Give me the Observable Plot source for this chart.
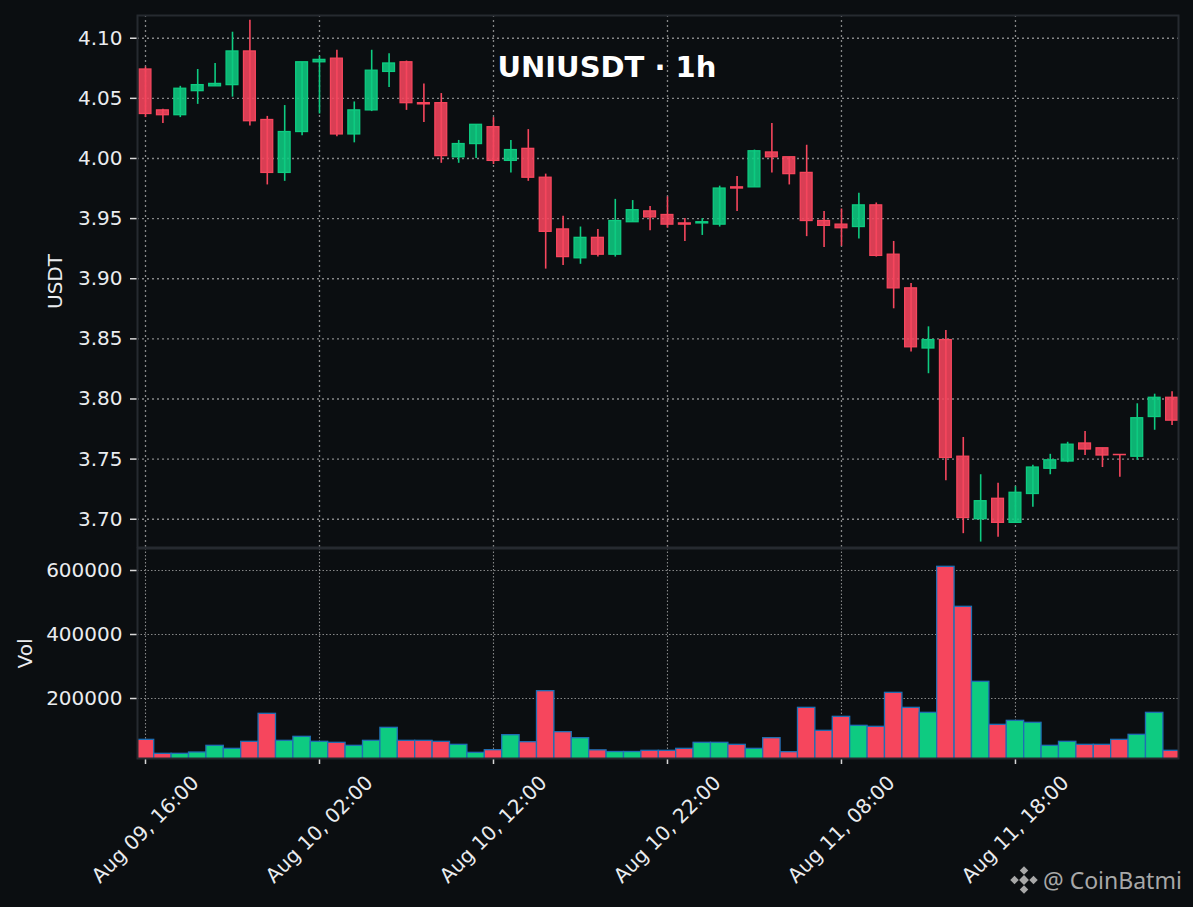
<!DOCTYPE html>
<html lang="en">
<head>
<meta charset="UTF-8">
<title>UNIUSDT · 1h</title>
<script src="https://cdn.jsdelivr.net/npm/d3@7"></script>
<script src="https://cdn.jsdelivr.net/npm/@observablehq/plot@0.6"></script>
<style>
  html, body { margin: 0; padding: 0; background: #0b0e11; }
  #wrap { position: relative; width: 1193px; height: 907px; overflow: hidden; font-family: "DejaVu Sans", sans-serif; }
  #price, #vol { position: absolute; left: 0; }
  #price { top: 0; }
  #vol { top: 547px; }
  #mark { position: absolute; left: 1009px; top: 865px; width: 184px; white-space: nowrap; color: #b9b9b9; font-family: "Noto Sans", sans-serif; font-size: 23px; line-height: 30px; display: flex; align-items: center; gap: 4px; opacity: 0.9; }
  #mark svg { flex: none; }
</style>
</head>
<body>
<div id="wrap">
  <div id="price"></div>
  <div id="vol"></div>
  <div id="mark">
    <svg width="30" height="30" viewBox="-15 -15 30 30">
      <g fill="#b9b9b9">
        <rect x="-3.5" y="-3.5" width="7" height="7" transform="rotate(45)"></rect>
        <rect x="-3" y="-12.5" width="6" height="6" transform="rotate(45 0 -9.5)"></rect>
        <rect x="-3" y="6.5" width="6" height="6" transform="rotate(45 0 9.5)"></rect>
        <rect x="-12.5" y="-3" width="6" height="6" transform="rotate(45 -9.5 0)"></rect>
        <rect x="6.5" y="-3" width="6" height="6" transform="rotate(45 9.5 0)"></rect>
      </g>
    </svg>
    <span>@ CoinBatmi</span>
  </div>
</div>
<script>
// hourly candles starting Aug 09 16:00
const startTime = Date.UTC(2025, 7, 9, 16);
const hour = 3600e3;

const opens = [
  4.074, 4.040, 4.036, 4.056, 4.060, 4.061, 4.089, 4.032, 3.988, 4.022,
  4.080, 4.083, 4.020, 4.040, 4.072, 4.080, 4.046, 4.046, 4.001, 4.012,
  4.026, 3.998, 4.008, 3.984, 3.941, 3.917, 3.934, 3.920, 3.947, 3.956,
  3.953, 3.946, 3.946, 3.945, 3.976, 3.976, 4.005, 4.001, 3.988, 3.948,
  3.945, 3.943, 3.961, 3.920, 3.892, 3.842, 3.849, 3.752, 3.700, 3.717,
  3.697, 3.721, 3.742, 3.748, 3.763, 3.759, 3.7535, 3.752, 3.785, 3.801
];
const highs = [
  4.076, 4.041, 4.060, 4.074, 4.079, 4.105, 4.115, 4.035, 4.044, 4.080,
  4.085, 4.090, 4.047, 4.090, 4.087, 4.081, 4.062, 4.054, 4.015, 4.028,
  4.034, 4.015, 4.024, 3.987, 3.952, 3.943, 3.941, 3.966, 3.965, 3.960,
  3.968, 3.950, 3.950, 3.977, 3.985, 4.007, 4.029, 4.001, 4.011, 3.956,
  3.958, 3.971, 3.963, 3.931, 3.896, 3.860, 3.857, 3.768, 3.737, 3.730,
  3.727, 3.745, 3.754, 3.764, 3.773, 3.759, 3.7537, 3.796, 3.804, 3.806
];
const lows = [
  4.034, 4.029, 4.034, 4.045, 4.060, 4.051, 4.027, 3.978, 3.981, 4.019,
  4.037, 4.018, 4.013, 4.039, 4.059, 4.040, 4.030, 3.996, 3.996, 4.000,
  3.995, 3.988, 3.981, 3.908, 3.911, 3.912, 3.918, 3.918, 3.947, 3.940,
  3.942, 3.931, 3.936, 3.943, 3.956, 3.976, 3.988, 3.978, 3.935, 3.926,
  3.927, 3.933, 3.918, 3.875, 3.839, 3.821, 3.732, 3.688, 3.681, 3.685,
  3.697, 3.710, 3.737, 3.747, 3.753, 3.743, 3.735, 3.749, 3.774, 3.778
];
const closes = [
  4.037, 4.036, 4.058, 4.061, 4.062, 4.089, 4.031, 3.988, 4.022, 4.080,
  4.082, 4.020, 4.040, 4.073, 4.079, 4.046, 4.045, 4.002, 4.012, 4.028,
  3.998, 4.007, 3.984, 3.939, 3.918, 3.934, 3.920, 3.948, 3.957, 3.951,
  3.945, 3.945, 3.947, 3.975, 3.975, 4.006, 4.001, 3.987, 3.948, 3.944,
  3.942, 3.961, 3.919, 3.892, 3.843, 3.849, 3.751, 3.701, 3.715, 3.697,
  3.722, 3.743, 3.749, 3.762, 3.758, 3.753, 3.7533, 3.784, 3.801, 3.782
];
const volumes = [
  70800, 27100, 27100, 31200, 52100, 42700, 64600, 152100, 67700, 80200,
  64600, 61500, 52100, 67700, 108300, 67700, 67700, 64600, 55200, 30200,
  38500, 85400, 63500, 222900, 94800, 76000, 38000, 32800, 32800, 36500,
  36500, 42700, 61500, 61500, 55200, 42700, 76000, 32300, 170800, 99000,
  142700, 114600, 111500, 217700, 170800, 155200, 611500, 486500, 252100, 117700,
  130200, 124000, 52100, 64600, 55200, 55200, 70800, 86500, 155200, 36500
];

const tickHours = [0, 10, 20, 30, 40, 50];
const priceTicks = [3.70, 3.75, 3.80, 3.85, 3.90, 3.95, 4.00, 4.05, 4.10];
const volTicks = [200000, 400000, 600000];

const upColor = "#0ecb81";
const downColor = "#f6465d";

const candles = opens.map((o, i) => ({
  date: new Date(startTime + i * hour),
  open: o, high: highs[i], low: lows[i], close: closes[i],
  volume: volumes[i],
  up: closes[i] >= o
}));
const tickDates = tickHours.map(h => new Date(startTime + h * hour));
const fmt = d3.utcFormat("%b %d, %H:%M");
const shift = (d, f) => new Date(+d + f * hour);
const col = d => d.up ? upColor : downColor;

const xDomain = [shift(new Date(startTime), -0.46), shift(new Date(startTime), 59.37)];
const textColor = "#eaecef";
const frameColor = "#262a30";

const price = Plot.plot({
  width: 1193, height: 548,
  marginTop: 15, marginBottom: 1, marginLeft: 137, marginRight: 15,
  style: {background: "transparent", color: textColor, fontFamily: "DejaVu Sans", fontSize: "20px"},
  x: {type: "utc", domain: xDomain, axis: null, label: null},
  y: {domain: [3.6765, 4.1189], label: null},
  marks: [
    Plot.gridX(tickDates, {stroke: "#b0b0b0", strokeOpacity: 0.75, strokeWidth: 1.3, strokeDasharray: "2,3"}),
    Plot.gridY(priceTicks, {stroke: "#b0b0b0", strokeOpacity: 0.75, strokeWidth: 1.3, strokeDasharray: "2,3"}),
    Plot.ruleX(candles, {x: "date", y1: "low", y2: "high", stroke: col, strokeWidth: 1.6}),
    Plot.rect(candles, {
      x1: d => shift(d.date, -0.34), x2: d => shift(d.date, 0.34),
      y1: d => Math.min(d.open, d.close), y2: d => Math.max(d.open, d.close),
      fill: col, fillOpacity: 0.88, stroke: col, strokeWidth: 1.3
    }),
    Plot.axisY({ticks: priceTicks, tickFormat: ".2f", tickSize: 7, tickPadding: 8, fontSize: 20, fill: textColor, stroke: "#d8d8d8", strokeWidth: 1.5, label: null}),
    Plot.frame({stroke: frameColor, strokeWidth: 2}),
    Plot.text(["USDT"], {frameAnchor: "left", dx: -82, rotate: -90, textAnchor: "middle", lineAnchor: "middle", fontSize: 20, fill: textColor}),
    Plot.text(["UNIUSDT · 1h"], {frameAnchor: "top-left", dx: 360, dy: 52, textAnchor: "start", lineAnchor: "middle", fontSize: 29, fontWeight: "bold", fill: "#ffffff"})
  ]
});
document.getElementById("price").replaceChildren(price);

const vol = Plot.plot({
  width: 1193, height: 360,
  marginTop: 1, marginBottom: 149, marginLeft: 137, marginRight: 15,
  style: {background: "transparent", color: textColor, fontFamily: "DejaVu Sans", fontSize: "20px"},
  x: {type: "utc", domain: xDomain, label: null},
  y: {domain: [12500, 668750], label: null},
  marks: [
    Plot.gridX(tickDates, {stroke: "#b0b0b0", strokeOpacity: 0.75, strokeWidth: 1.1, strokeDasharray: "1.5,2"}),
    Plot.gridY(volTicks, {stroke: "#b0b0b0", strokeOpacity: 0.75, strokeWidth: 1.1, strokeDasharray: "1.5,2"}),
    Plot.rect(candles, {
      x1: d => shift(d.date, -0.5), x2: d => shift(d.date, 0.5),
      y1: 0, y2: "volume",
      fill: col, stroke: "#1f6fb4", strokeWidth: 1.3, clip: true
    }),
    Plot.axisY({ticks: volTicks, tickFormat: d => String(d), tickSize: 7, tickPadding: 8, fontSize: 20, fill: textColor, stroke: "#d8d8d8", strokeWidth: 1.5, label: null}),
    Plot.axisX({ticks: tickDates, tickFormat: () => "", tickSize: 6, stroke: "#d8d8d8", strokeWidth: 1.5, label: null}),
    Plot.text(tickDates, {x: d => d, text: d => fmt(d), frameAnchor: "bottom", dy: 71, rotate: -45, textAnchor: "middle", lineAnchor: "middle", fontSize: 20, fill: textColor}),
    Plot.frame({stroke: frameColor, strokeWidth: 2}),
    Plot.text(["Vol"], {frameAnchor: "left", dx: -112, rotate: -90, textAnchor: "middle", lineAnchor: "middle", fontSize: 20, fill: textColor})
  ]
});
document.getElementById("vol").replaceChildren(vol);
</script>
</body>
</html>
